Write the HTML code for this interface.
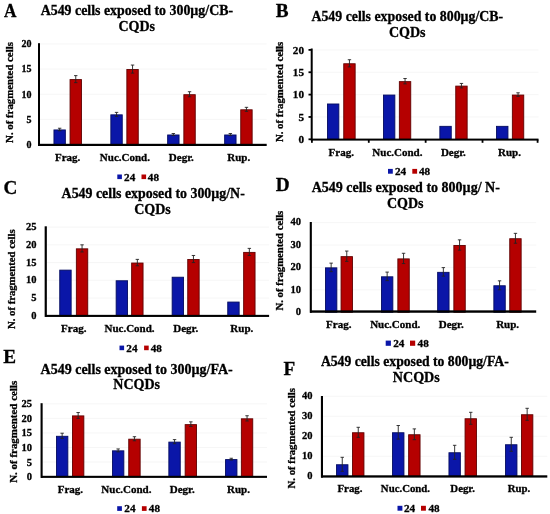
<!DOCTYPE html>
<html><head><meta charset="utf-8"><title>A549 fragmented cells</title>
<style>
html,body{margin:0;padding:0;background:#fff;}
svg{display:block;}
text{font-family:"Liberation Serif", "Times New Roman", serif;font-weight:bold;fill:#000;stroke:#000;stroke-width:0.3px;}
</style></head><body>
<svg width="550" height="514" viewBox="0 0 550 514">
<rect width="550" height="514" fill="#fff"/>
<g id="pA">
<text transform="translate(4 16.6) scale(0.9 1)" font-size="19.2">A</text>
<text x="136.9" y="15" font-size="13.9" text-anchor="middle">A549 cells exposed to 300µg/CB-</text>
<text x="136.7" y="30.5" font-size="14" text-anchor="middle">CQDs</text>
<line x1="40" x2="266.7" y1="119.42" y2="119.42" stroke="#f4f4f4" stroke-width="0.8"/>
<line x1="40" x2="266.7" y1="94.25" y2="94.25" stroke="#f4f4f4" stroke-width="0.8"/>
<line x1="40" x2="266.7" y1="69.07" y2="69.07" stroke="#f4f4f4" stroke-width="0.8"/>
<line x1="40" x2="266.7" y1="43.9" y2="43.9" stroke="#f4f4f4" stroke-width="0.8"/>
<rect x="53.95" y="129.94" width="11.4" height="14.65" fill="#0a16a8" stroke="#040c60" stroke-width="0.9"/>
<rect x="70.05" y="79.59" width="11.4" height="65" fill="#b50000" stroke="#600000" stroke-width="0.9"/>
<rect x="110.85" y="114.84" width="11.4" height="29.76" fill="#0a16a8" stroke="#040c60" stroke-width="0.9"/>
<rect x="126.85" y="69.52" width="11.4" height="75.08" fill="#b50000" stroke="#600000" stroke-width="0.9"/>
<rect x="167.65" y="134.98" width="11.4" height="9.62" fill="#0a16a8" stroke="#040c60" stroke-width="0.9"/>
<rect x="183.85" y="94.7" width="11.4" height="49.9" fill="#b50000" stroke="#600000" stroke-width="0.9"/>
<rect x="224.65" y="134.98" width="11.4" height="9.62" fill="#0a16a8" stroke="#040c60" stroke-width="0.9"/>
<rect x="240.75" y="109.8" width="11.4" height="34.8" fill="#b50000" stroke="#600000" stroke-width="0.9"/>
<path d="M59.65 128.24V130.75M57.95 128.24H61.35M57.95 130.75H61.35" stroke="#222" stroke-width="0.9" fill="none"/>
<path d="M75.75 75.62V82.67M74.05 75.62H77.45M74.05 82.67H77.45" stroke="#222" stroke-width="0.9" fill="none"/>
<path d="M116.55 112.38V116.4M114.85 112.38H118.25M114.85 116.4H118.25" stroke="#222" stroke-width="0.9" fill="none"/>
<path d="M132.55 65.05V73.1M130.85 65.05H134.25M130.85 73.1H134.25" stroke="#222" stroke-width="0.9" fill="none"/>
<path d="M173.35 133.52V135.54M171.65 133.52H175.05M171.65 135.54H175.05" stroke="#222" stroke-width="0.9" fill="none"/>
<path d="M189.55 91.73V96.77M187.85 91.73H191.25M187.85 96.77H191.25" stroke="#222" stroke-width="0.9" fill="none"/>
<path d="M230.35 133.52V135.54M228.65 133.52H232.05M228.65 135.54H232.05" stroke="#222" stroke-width="0.9" fill="none"/>
<path d="M246.45 107.34V111.37M244.75 107.34H248.15M244.75 111.37H248.15" stroke="#222" stroke-width="0.9" fill="none"/>
<rect x="38" y="43.2" width="2" height="102.8" fill="#000"/>
<rect x="38" y="143.8" width="228.7" height="2.2" fill="#000"/>
<text x="31.5" y="148" font-size="10" text-anchor="end">0</text>
<text x="31.5" y="122.83" font-size="10" text-anchor="end">5</text>
<text x="31.5" y="97.65" font-size="10" text-anchor="end">10</text>
<text x="31.5" y="72.47" font-size="10" text-anchor="end">15</text>
<text x="31.5" y="47.3" font-size="10" text-anchor="end">20</text>
<text x="67.6" y="161.3" font-size="11" text-anchor="middle">Frag.</text>
<text x="124.9" y="161.3" font-size="11" text-anchor="middle">Nuc.Cond.</text>
<text x="181.3" y="161.3" font-size="11" text-anchor="middle">Degr.</text>
<text x="238.7" y="161.3" font-size="11" text-anchor="middle">Rup.</text>
<rect x="117.3" y="174.5" width="4.6" height="4.6" fill="#0a16a8"/>
<rect x="141.5" y="174.5" width="4.6" height="4.6" fill="#b50000"/>
<text x="124.1" y="180.6" font-size="11.2">24</text>
<text x="147.8" y="180.6" font-size="11.2">48</text>
<text transform="translate(12.76 92.5) rotate(-90)" x="0" y="0" font-size="10.8" text-anchor="middle">N. of fragmented cells</text>
</g>
<g id="pB">
<text transform="translate(275.8 16.6) scale(1.0 1)" font-size="19.2">B</text>
<text x="407.3" y="20.8" font-size="13.85" text-anchor="middle">A549 cells exposed to 800µg/CB-</text>
<text x="407.25" y="36.6" font-size="14" text-anchor="middle">CQDs</text>
<line x1="312.7" x2="538.5" y1="116.95" y2="116.95" stroke="#f4f4f4" stroke-width="0.8"/>
<line x1="312.7" x2="538.5" y1="94.6" y2="94.6" stroke="#f4f4f4" stroke-width="0.8"/>
<line x1="312.7" x2="538.5" y1="72.25" y2="72.25" stroke="#f4f4f4" stroke-width="0.8"/>
<line x1="312.7" x2="538.5" y1="49.9" y2="49.9" stroke="#f4f4f4" stroke-width="0.8"/>
<rect x="327.45" y="103.99" width="11.4" height="35.31" fill="#0a16a8" stroke="#040c60" stroke-width="0.9"/>
<rect x="343.75" y="63.76" width="11.4" height="75.54" fill="#b50000" stroke="#600000" stroke-width="0.9"/>
<rect x="383.45" y="95.05" width="11.4" height="44.25" fill="#0a16a8" stroke="#040c60" stroke-width="0.9"/>
<rect x="399.35" y="81.64" width="11.4" height="57.66" fill="#b50000" stroke="#600000" stroke-width="0.9"/>
<rect x="439.85" y="126.34" width="11.4" height="12.96" fill="#0a16a8" stroke="#040c60" stroke-width="0.9"/>
<rect x="455.75" y="86.11" width="11.4" height="53.19" fill="#b50000" stroke="#600000" stroke-width="0.9"/>
<rect x="496.55" y="126.34" width="11.4" height="12.96" fill="#0a16a8" stroke="#040c60" stroke-width="0.9"/>
<rect x="512.35" y="95.05" width="11.4" height="44.25" fill="#b50000" stroke="#600000" stroke-width="0.9"/>
<path d="M349.45 59.73V66.89M347.75 59.73H351.15M347.75 66.89H351.15" stroke="#222" stroke-width="0.9" fill="none"/>
<path d="M405.05 78.51V83.87M403.35 78.51H406.75M403.35 83.87H406.75" stroke="#222" stroke-width="0.9" fill="none"/>
<path d="M461.45 83.43V87.9M459.75 83.43H463.15M459.75 87.9H463.15" stroke="#222" stroke-width="0.9" fill="none"/>
<path d="M518.05 92.81V96.39M516.35 92.81H519.75M516.35 96.39H519.75" stroke="#222" stroke-width="0.9" fill="none"/>
<rect x="310.7" y="48.5" width="2" height="92.1" fill="#000"/>
<rect x="311" y="138.6" width="227.5" height="2" fill="#000"/>
<rect x="308.5" y="138.4" width="3.2" height="1.8" fill="#000"/>
<rect x="308.5" y="116.05" width="3.2" height="1.8" fill="#000"/>
<rect x="308.5" y="93.7" width="3.2" height="1.8" fill="#000"/>
<rect x="308.5" y="71.35" width="3.2" height="1.8" fill="#000"/>
<rect x="308.5" y="49" width="3.2" height="1.8" fill="#000"/>
<rect x="311" y="139.6" width="1.8" height="3.2" fill="#000"/>
<rect x="367.88" y="139.6" width="1.8" height="3.2" fill="#000"/>
<rect x="424.75" y="139.6" width="1.8" height="3.2" fill="#000"/>
<rect x="481.62" y="139.6" width="1.8" height="3.2" fill="#000"/>
<rect x="536.7" y="139.6" width="1.8" height="3.2" fill="#000"/>
<text x="304" y="143.11" font-size="11.2" text-anchor="end">0</text>
<text x="304" y="120.76" font-size="11.2" text-anchor="end">5</text>
<text x="304" y="98.41" font-size="11.2" text-anchor="end">10</text>
<text x="304" y="76.06" font-size="11.2" text-anchor="end">15</text>
<text x="304" y="53.71" font-size="11.2" text-anchor="end">20</text>
<text x="341.3" y="155.9" font-size="11" text-anchor="middle">Frag.</text>
<text x="397.4" y="155.9" font-size="11" text-anchor="middle">Nuc.Cond.</text>
<text x="453.4" y="155.9" font-size="11" text-anchor="middle">Degr.</text>
<text x="509.5" y="155.9" font-size="11" text-anchor="middle">Rup.</text>
<rect x="388" y="168.9" width="4.8" height="4.8" fill="#0a16a8"/>
<rect x="412.3" y="168.9" width="4.8" height="4.8" fill="#b50000"/>
<text x="394.9" y="175" font-size="11.2">24</text>
<text x="418.9" y="175" font-size="11.2">48</text>
<text transform="translate(283.45 91.9) rotate(-90)" x="0" y="0" font-size="10.75" text-anchor="middle">N. of fragmented cells</text>
</g>
<g id="pC">
<text transform="translate(3.6 194.2) scale(1.0 1)" font-size="19.2">C</text>
<text x="153.2" y="198.2" font-size="13.9" text-anchor="middle">A549 cells exposed to 300µg/N-</text>
<text x="152.5" y="214" font-size="14" text-anchor="middle">CQDs</text>
<line x1="46.75" x2="269.1" y1="298.06" y2="298.06" stroke="#f4f4f4" stroke-width="0.8"/>
<line x1="46.75" x2="269.1" y1="280.32" y2="280.32" stroke="#f4f4f4" stroke-width="0.8"/>
<line x1="46.75" x2="269.1" y1="262.58" y2="262.58" stroke="#f4f4f4" stroke-width="0.8"/>
<line x1="46.75" x2="269.1" y1="244.84" y2="244.84" stroke="#f4f4f4" stroke-width="0.8"/>
<line x1="46.75" x2="269.1" y1="227.1" y2="227.1" stroke="#f4f4f4" stroke-width="0.8"/>
<rect x="59.75" y="270.13" width="11.4" height="45.67" fill="#0a16a8" stroke="#040c60" stroke-width="0.9"/>
<rect x="76.35" y="248.84" width="11.4" height="66.96" fill="#b50000" stroke="#600000" stroke-width="0.9"/>
<rect x="116.15" y="280.77" width="11.4" height="35.03" fill="#0a16a8" stroke="#040c60" stroke-width="0.9"/>
<rect x="131.65" y="263.03" width="11.4" height="52.77" fill="#b50000" stroke="#600000" stroke-width="0.9"/>
<rect x="172.15" y="277.22" width="11.4" height="38.58" fill="#0a16a8" stroke="#040c60" stroke-width="0.9"/>
<rect x="187.75" y="259.48" width="11.4" height="56.32" fill="#b50000" stroke="#600000" stroke-width="0.9"/>
<rect x="227.75" y="302.06" width="11.4" height="13.74" fill="#0a16a8" stroke="#040c60" stroke-width="0.9"/>
<rect x="243.65" y="252.39" width="11.4" height="63.41" fill="#b50000" stroke="#600000" stroke-width="0.9"/>
<path d="M82.05 244.84V251.94M80.35 244.84H83.75M80.35 251.94H83.75" stroke="#222" stroke-width="0.9" fill="none"/>
<path d="M137.35 259.39V265.77M135.65 259.39H139.05M135.65 265.77H139.05" stroke="#222" stroke-width="0.9" fill="none"/>
<path d="M193.45 255.48V262.58M191.75 255.48H195.15M191.75 262.58H195.15" stroke="#222" stroke-width="0.9" fill="none"/>
<path d="M249.35 248.39V255.48M247.65 248.39H251.05M247.65 255.48H251.05" stroke="#222" stroke-width="0.9" fill="none"/>
<rect x="44.65" y="226.3" width="2.2" height="90.65" fill="#000"/>
<rect x="45.5" y="314.85" width="223.6" height="2.1" fill="#000"/>
<text x="36.4" y="318.87" font-size="10.5" text-anchor="end">0</text>
<text x="36.4" y="301.13" font-size="10.5" text-anchor="end">5</text>
<text x="36.4" y="283.39" font-size="10.5" text-anchor="end">10</text>
<text x="36.4" y="265.65" font-size="10.5" text-anchor="end">15</text>
<text x="36.4" y="247.91" font-size="10.5" text-anchor="end">20</text>
<text x="36.4" y="230.17" font-size="10.5" text-anchor="end">25</text>
<text x="73.75" y="331.7" font-size="11" text-anchor="middle">Frag.</text>
<text x="129.5" y="331.7" font-size="11" text-anchor="middle">Nuc.Cond.</text>
<text x="185.7" y="331.7" font-size="11" text-anchor="middle">Degr.</text>
<text x="241.8" y="331.7" font-size="11" text-anchor="middle">Rup.</text>
<rect x="119.5" y="345.6" width="4.6" height="4.6" fill="#0a16a8"/>
<rect x="144.1" y="345.6" width="4.6" height="4.6" fill="#b50000"/>
<text x="126.3" y="351.6" font-size="11.2">24</text>
<text x="150.7" y="351.6" font-size="11.2">48</text>
<text transform="translate(15.33 279.15) rotate(-90)" x="0" y="0" font-size="10.7" text-anchor="middle">N. of fragmented cells</text>
</g>
<g id="pD">
<text transform="translate(275.8 190.5) scale(1.0 1)" font-size="19.2">D</text>
<text x="405.75" y="192.2" font-size="14" text-anchor="middle">A549 cells exposed to 800µg/ N-</text>
<text x="405.2" y="208" font-size="14" text-anchor="middle">CQDs</text>
<line x1="311.8" x2="536.2" y1="289.8" y2="289.8" stroke="#f4f4f4" stroke-width="0.8"/>
<line x1="311.8" x2="536.2" y1="267.4" y2="267.4" stroke="#f4f4f4" stroke-width="0.8"/>
<line x1="311.8" x2="536.2" y1="245" y2="245" stroke="#f4f4f4" stroke-width="0.8"/>
<line x1="311.8" x2="536.2" y1="222.6" y2="222.6" stroke="#f4f4f4" stroke-width="0.8"/>
<rect x="325.45" y="267.85" width="11.4" height="44.35" fill="#0a16a8" stroke="#040c60" stroke-width="0.9"/>
<rect x="341.05" y="256.65" width="11.4" height="55.55" fill="#b50000" stroke="#600000" stroke-width="0.9"/>
<rect x="381.45" y="276.81" width="11.4" height="35.39" fill="#0a16a8" stroke="#040c60" stroke-width="0.9"/>
<rect x="397.85" y="258.89" width="11.4" height="53.31" fill="#b50000" stroke="#600000" stroke-width="0.9"/>
<rect x="437.65" y="272.33" width="11.4" height="39.87" fill="#0a16a8" stroke="#040c60" stroke-width="0.9"/>
<rect x="453.85" y="245.45" width="11.4" height="66.75" fill="#b50000" stroke="#600000" stroke-width="0.9"/>
<rect x="493.85" y="285.77" width="11.4" height="26.43" fill="#0a16a8" stroke="#040c60" stroke-width="0.9"/>
<rect x="509.75" y="238.73" width="11.4" height="73.47" fill="#b50000" stroke="#600000" stroke-width="0.9"/>
<path d="M331.15 263.14V271.66M329.45 263.14H332.85M329.45 271.66H332.85" stroke="#222" stroke-width="0.9" fill="none"/>
<path d="M346.75 251.05V261.35M345.05 251.05H348.45M345.05 261.35H348.45" stroke="#222" stroke-width="0.9" fill="none"/>
<path d="M387.15 272.1V280.62M385.45 272.1H388.85M385.45 280.62H388.85" stroke="#222" stroke-width="0.9" fill="none"/>
<path d="M403.55 253.29V263.59M401.85 253.29H405.25M401.85 263.59H405.25" stroke="#222" stroke-width="0.9" fill="none"/>
<path d="M443.35 267.62V276.14M441.65 267.62H445.05M441.65 276.14H445.05" stroke="#222" stroke-width="0.9" fill="none"/>
<path d="M459.55 239.85V250.15M457.85 239.85H461.25M457.85 250.15H461.25" stroke="#222" stroke-width="0.9" fill="none"/>
<path d="M499.55 280.84V289.8M497.85 280.84H501.25M497.85 289.8H501.25" stroke="#222" stroke-width="0.9" fill="none"/>
<path d="M515.45 233.35V243.21M513.75 233.35H517.15M513.75 243.21H517.15" stroke="#222" stroke-width="0.9" fill="none"/>
<rect x="309.75" y="222" width="2.1" height="90.75" fill="#000"/>
<rect x="310" y="310.35" width="226.2" height="2.4" fill="#000"/>
<text x="301.1" y="314.97" font-size="10.5" text-anchor="end">0</text>
<text x="301.1" y="292.57" font-size="10.5" text-anchor="end">10</text>
<text x="301.1" y="270.17" font-size="10.5" text-anchor="end">20</text>
<text x="301.1" y="247.77" font-size="10.5" text-anchor="end">30</text>
<text x="301.1" y="225.37" font-size="10.5" text-anchor="end">40</text>
<text x="338.75" y="328.1" font-size="11" text-anchor="middle">Frag.</text>
<text x="395.2" y="328.1" font-size="11" text-anchor="middle">Nuc.Cond.</text>
<text x="451.2" y="328.1" font-size="11" text-anchor="middle">Degr.</text>
<text x="507.65" y="328.1" font-size="11" text-anchor="middle">Rup.</text>
<rect x="385.7" y="340.6" width="5.2" height="5.2" fill="#0a16a8"/>
<rect x="410" y="340.6" width="5.2" height="5.2" fill="#b50000"/>
<text x="393.2" y="347" font-size="11.2">24</text>
<text x="417.6" y="347" font-size="11.2">48</text>
<text transform="translate(282.63 260.6) rotate(-90)" x="0" y="0" font-size="10.7" text-anchor="middle">N. of fragmented cells</text>
</g>
<g id="pE">
<text transform="translate(3.3 363) scale(1.0 1)" font-size="19.2">E</text>
<text x="136.65" y="373.5" font-size="14" text-anchor="middle">A549 cells exposed to 300µg/FA-</text>
<text x="136.65" y="389.1" font-size="14" text-anchor="middle">NCQDs</text>
<line x1="42.6" x2="267" y1="462.04" y2="462.04" stroke="#f4f4f4" stroke-width="0.8"/>
<line x1="42.6" x2="267" y1="447.48" y2="447.48" stroke="#f4f4f4" stroke-width="0.8"/>
<line x1="42.6" x2="267" y1="432.92" y2="432.92" stroke="#f4f4f4" stroke-width="0.8"/>
<line x1="42.6" x2="267" y1="418.36" y2="418.36" stroke="#f4f4f4" stroke-width="0.8"/>
<line x1="42.6" x2="267" y1="403.8" y2="403.8" stroke="#f4f4f4" stroke-width="0.8"/>
<rect x="56.45" y="436.28" width="11.4" height="40.32" fill="#0a16a8" stroke="#040c60" stroke-width="0.9"/>
<rect x="72.45" y="415.9" width="11.4" height="60.7" fill="#b50000" stroke="#600000" stroke-width="0.9"/>
<rect x="112.45" y="450.84" width="11.4" height="25.76" fill="#0a16a8" stroke="#040c60" stroke-width="0.9"/>
<rect x="128.75" y="439.19" width="11.4" height="37.41" fill="#b50000" stroke="#600000" stroke-width="0.9"/>
<rect x="168.85" y="442.11" width="11.4" height="34.49" fill="#0a16a8" stroke="#040c60" stroke-width="0.9"/>
<rect x="185.15" y="424.63" width="11.4" height="51.97" fill="#b50000" stroke="#600000" stroke-width="0.9"/>
<rect x="225.55" y="459.58" width="11.4" height="17.02" fill="#0a16a8" stroke="#040c60" stroke-width="0.9"/>
<rect x="241.35" y="418.81" width="11.4" height="57.79" fill="#b50000" stroke="#600000" stroke-width="0.9"/>
<path d="M62.15 433.21V438.45M60.45 433.21H63.85M60.45 438.45H63.85" stroke="#222" stroke-width="0.9" fill="none"/>
<path d="M78.15 412.54V418.36M76.45 412.54H79.85M76.45 418.36H79.85" stroke="#222" stroke-width="0.9" fill="none"/>
<path d="M118.15 448.94V451.85M116.45 448.94H119.85M116.45 451.85H119.85" stroke="#222" stroke-width="0.9" fill="none"/>
<path d="M134.45 436.71V440.78M132.75 436.71H136.15M132.75 440.78H136.15" stroke="#222" stroke-width="0.9" fill="none"/>
<path d="M174.55 439.62V443.69M172.85 439.62H176.25M172.85 443.69H176.25" stroke="#222" stroke-width="0.9" fill="none"/>
<path d="M190.85 421.85V426.51M189.15 421.85H192.55M189.15 426.51H192.55" stroke="#222" stroke-width="0.9" fill="none"/>
<path d="M231.25 458.25V460M229.55 458.25H232.95M229.55 460H232.95" stroke="#222" stroke-width="0.9" fill="none"/>
<path d="M247.05 415.74V420.98M245.35 415.74H248.75M245.35 420.98H248.75" stroke="#222" stroke-width="0.9" fill="none"/>
<rect x="40.55" y="403.2" width="2.1" height="74.7" fill="#000"/>
<rect x="41" y="475.8" width="226" height="2.1" fill="#000"/>
<text x="32.1" y="480.17" font-size="10.5" text-anchor="end">0</text>
<text x="32.1" y="465.61" font-size="10.5" text-anchor="end">5</text>
<text x="32.1" y="451.05" font-size="10.5" text-anchor="end">10</text>
<text x="32.1" y="436.49" font-size="10.5" text-anchor="end">15</text>
<text x="32.1" y="421.93" font-size="10.5" text-anchor="end">20</text>
<text x="32.1" y="407.37" font-size="10.5" text-anchor="end">25</text>
<text x="70.35" y="492.8" font-size="11" text-anchor="middle">Frag.</text>
<text x="126.4" y="492.8" font-size="11" text-anchor="middle">Nuc.Cond.</text>
<text x="182.2" y="492.8" font-size="11" text-anchor="middle">Degr.</text>
<text x="238.5" y="492.8" font-size="11" text-anchor="middle">Rup.</text>
<rect x="117.2" y="506.2" width="4.7" height="4.7" fill="#0a16a8"/>
<rect x="141.9" y="506.2" width="4.7" height="4.7" fill="#b50000"/>
<text x="124.3" y="512.3" font-size="11.2">24</text>
<text x="148.8" y="512.3" font-size="11.2">48</text>
<text transform="translate(17.41 431.8) rotate(-90)" x="0" y="0" font-size="10.95" text-anchor="middle">N. of fragmented cells</text>
</g>
<g id="pF">
<text transform="translate(283.5 374.9) scale(1.0 1)" font-size="19.2">F</text>
<text x="414.8" y="366" font-size="13.7" text-anchor="middle">A549 cells exposed to 800µg/FA-</text>
<text x="416.3" y="381.8" font-size="14.1" text-anchor="middle">NCQDs</text>
<line x1="322.95" x2="547.3" y1="456.3" y2="456.3" stroke="#f4f4f4" stroke-width="0.8"/>
<line x1="322.95" x2="547.3" y1="436.3" y2="436.3" stroke="#f4f4f4" stroke-width="0.8"/>
<line x1="322.95" x2="547.3" y1="416.3" y2="416.3" stroke="#f4f4f4" stroke-width="0.8"/>
<line x1="322.95" x2="547.3" y1="396.3" y2="396.3" stroke="#f4f4f4" stroke-width="0.8"/>
<rect x="336.55" y="464.75" width="11.4" height="11.55" fill="#0a16a8" stroke="#040c60" stroke-width="0.9"/>
<rect x="352.55" y="432.75" width="11.4" height="43.55" fill="#b50000" stroke="#600000" stroke-width="0.9"/>
<rect x="392.55" y="432.75" width="11.4" height="43.55" fill="#0a16a8" stroke="#040c60" stroke-width="0.9"/>
<rect x="408.65" y="434.75" width="11.4" height="41.55" fill="#b50000" stroke="#600000" stroke-width="0.9"/>
<rect x="448.95" y="452.75" width="11.4" height="23.55" fill="#0a16a8" stroke="#040c60" stroke-width="0.9"/>
<rect x="465.05" y="418.75" width="11.4" height="57.55" fill="#b50000" stroke="#600000" stroke-width="0.9"/>
<rect x="505.55" y="444.75" width="11.4" height="31.55" fill="#0a16a8" stroke="#040c60" stroke-width="0.9"/>
<rect x="521.45" y="414.75" width="11.4" height="61.55" fill="#b50000" stroke="#600000" stroke-width="0.9"/>
<path d="M342.25 457.3V471.3M340.55 457.3H343.95M340.55 471.3H343.95" stroke="#222" stroke-width="0.9" fill="none"/>
<path d="M358.25 427.3V437.3M356.55 427.3H359.95M356.55 437.3H359.95" stroke="#222" stroke-width="0.9" fill="none"/>
<path d="M398.25 425.5V439.1M396.55 425.5H399.95M396.55 439.1H399.95" stroke="#222" stroke-width="0.9" fill="none"/>
<path d="M414.35 428.9V439.7M412.65 428.9H416.05M412.65 439.7H416.05" stroke="#222" stroke-width="0.9" fill="none"/>
<path d="M454.65 445.3V459.3M452.95 445.3H456.35M452.95 459.3H456.35" stroke="#222" stroke-width="0.9" fill="none"/>
<path d="M470.75 412.3V424.3M469.05 412.3H472.45M469.05 424.3H472.45" stroke="#222" stroke-width="0.9" fill="none"/>
<path d="M511.25 437.3V451.3M509.55 437.3H512.95M509.55 451.3H512.95" stroke="#222" stroke-width="0.9" fill="none"/>
<path d="M527.15 408.3V420.3M525.45 408.3H528.85M525.45 420.3H528.85" stroke="#222" stroke-width="0.9" fill="none"/>
<rect x="320.9" y="396" width="2.1" height="81.6" fill="#000"/>
<rect x="321" y="475.3" width="226.3" height="2.3" fill="#000"/>
<text x="312.4" y="479.07" font-size="10.5" text-anchor="end">0</text>
<text x="312.4" y="459.07" font-size="10.5" text-anchor="end">10</text>
<text x="312.4" y="439.07" font-size="10.5" text-anchor="end">20</text>
<text x="312.4" y="419.07" font-size="10.5" text-anchor="end">30</text>
<text x="312.4" y="399.07" font-size="10.5" text-anchor="end">40</text>
<text x="349.95" y="492.2" font-size="10.8" text-anchor="middle">Frag.</text>
<text x="405.45" y="492.2" font-size="10.8" text-anchor="middle">Nuc.Cond.</text>
<text x="462.6" y="492.2" font-size="10.8" text-anchor="middle">Degr.</text>
<text x="518.9" y="492.2" font-size="10.8" text-anchor="middle">Rup.</text>
<rect x="397.5" y="505.8" width="4.9" height="4.9" fill="#0a16a8"/>
<rect x="421" y="505.8" width="4.9" height="4.9" fill="#b50000"/>
<text x="404" y="511.6" font-size="11.2">24</text>
<text x="428.5" y="511.6" font-size="11.2">48</text>
<text transform="translate(294.65 438.25) rotate(-90)" x="0" y="0" font-size="10.75" text-anchor="middle">N. of fragmented cells</text>
</g>
</svg>
</body></html>
